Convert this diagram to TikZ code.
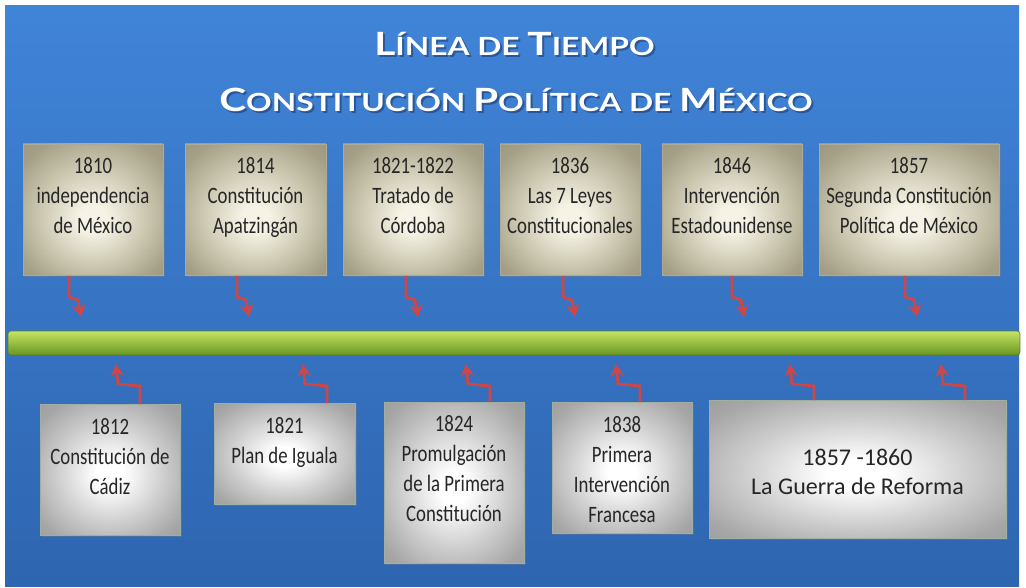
\documentclass[tikz,border=0pt]{standalone}
\usepackage{fontspec}
\usetikzlibrary{arrows.meta,shadows}
\newfontfamily\boxfont[FakeStretch=0.8]{Carlito}
\newfontfamily\widefont{Carlito}
\newfontfamily\titlefont[FakeStretch=1.27]{Lato}
\definecolor{bgtop}{RGB}{64,132,216}
\definecolor{bgbot}{RGB}{46,101,176}
\definecolor{arrred}{RGB}{206,70,70}
\definecolor{beigein}{RGB}{246,243,230}
\definecolor{beigemid}{RGB}{204,199,176}
\definecolor{beigeedge}{RGB}{164,159,134}
\definecolor{beigeout}{RGB}{138,133,110}
\definecolor{silvmid}{RGB}{206,206,206}
\definecolor{silvedge}{RGB}{166,166,166}
\definecolor{silvout}{RGB}{138,138,138}
\definecolor{bartop}{RGB}{196,228,100}
\definecolor{barmid}{RGB}{160,204,60}
\definecolor{barbot}{RGB}{106,150,34}
\pgfdeclareradialshading{beigeglow}{\pgfpoint{0bp}{-4bp}}{color(0bp)=(beigein); color(5bp)=(beigein); color(19bp)=(beigemid); color(31bp)=(beigeedge); color(50bp)=(beigeout)}
\pgfdeclareradialshading{silverglow}{\pgfpoint{0bp}{-2bp}}{color(0bp)=(white); color(5bp)=(white); color(19bp)=(silvmid); color(31bp)=(silvedge); color(50bp)=(silvout)}
\newcommand\Bg[1]{{\fontsize{32}{32}\selectfont #1}}
\newcommand\Sm[1]{{\fontsize{25}{25}\selectfont #1}}
\tikzset{
  topbox/.style={draw={rgb,255:red,170;green,170;blue,150}, line width=0.8pt,
    shading=beigeglow,
    drop shadow={shadow xshift=2pt, shadow yshift=-2pt, opacity=0.35}},
  botbox/.style={draw={rgb,255:red,160;green,175;blue,160}, line width=0.8pt,
    shading=silverglow,
    drop shadow={shadow xshift=2pt, shadow yshift=-2pt, opacity=0.35}},
  boxtext/.style={font=\boxfont\fontsize{23.5}{30}\selectfont, align=center,
    inner sep=0pt, anchor=north, text=black!85},
  widetext/.style={font=\widefont\fontsize{24}{29}\selectfont, align=center,
    inner sep=0pt, text=black!85},
  arr/.style={draw=arrred, line width=2.8pt, line join=miter,
    -{Stealth[length=12pt,width=13pt,inset=3.5pt]}},
  titletext/.style={font=\titlefont\bfseries, text=white, inner sep=0pt, anchor=base},
  titleshadow/.style={font=\titlefont\bfseries, text={rgb,255:red,30;green,60;blue,110}, inner sep=0pt, anchor=base, opacity=0.6}
}
\begin{document}
\begin{tikzpicture}[x=1pt,y=-1pt]
\useasboundingbox (0,0) rectangle (1026,588);
\fill[white] (0,0) rectangle (1026,588);
\shade[top color=bgtop, bottom color=bgbot] (5,6) rectangle (1019,586);

% title
\node[titleshadow] (tt1s) at (516.5,58) {\Bg{L}\Sm{ÍNEA DE }\Bg{T}\Sm{IEMPO}};
\node[titletext] (tt1) at (514.5,56) {\Bg{L}\Sm{ÍNEA DE }\Bg{T}\Sm{IEMPO}};
\node[titleshadow] (tt2s) at (518,114) {\Bg{C}\Sm{ONSTITUCIÓN }\Bg{P}\Sm{OLÍTICA DE }\Bg{M}\Sm{ÉXICO}};
\node[titletext] (tt2) at (516,112) {\Bg{C}\Sm{ONSTITUCIÓN }\Bg{P}\Sm{OLÍTICA DE }\Bg{M}\Sm{ÉXICO}};

% timeline bar
\shade[top color=bartop, middle color=barmid, bottom color=barbot, rounded corners=3pt,
  draw={rgb,255:red,90;green,130;blue,30}, line width=0.6pt] (8,331) rectangle (1020,355);

% top boxes
\path[topbox] (23,144) rectangle (163,275); \node[inner sep=0pt] (T1) at (93,209.5) {};
\path[topbox] (185,144) rectangle (326,275); \node[inner sep=0pt] (T2) at (255.5,209.5) {};
\path[topbox] (343,144) rectangle (483,275); \node[inner sep=0pt] (T3) at (413,209.5) {};
\path[topbox] (500,144) rectangle (640,275); \node[inner sep=0pt] (T4) at (570,209.5) {};
\path[topbox] (662,144) rectangle (802,275); \node[inner sep=0pt] (T5) at (732,209.5) {};
\path[topbox] (819,144) rectangle (999,275); \node[inner sep=0pt] (T6) at (909,209.5) {};

\node[boxtext] (t1) at (93,157) {1810\\independencia\\de México};
\node[boxtext] (t2) at (255.5,157) {1814\\Constitución\\Apatzingán};
\node[boxtext] (t3) at (413,157) {1821-1822\\Tratado de\\Córdoba};
\node[boxtext] (t4) at (570,157) {1836\\Las 7 Leyes\\Constitucionales};
\node[boxtext] (t5) at (732,157) {1846\\Intervención\\Estadounidense};
\node[boxtext] (t6) at (909,157) {1857\\Segunda Constitución\\Política de México};

% bottom boxes
\path[botbox] (40,404) rectangle (180,535); \node[inner sep=0pt] (B1) at (110,469.5) {};
\path[botbox] (214,403) rectangle (355,504); \node[inner sep=0pt] (B2) at (284.5,453.5) {};
\path[botbox] (384,402) rectangle (524,563); \node[inner sep=0pt] (B3) at (454,482.5) {};
\path[botbox] (552,402) rectangle (692,533); \node[inner sep=0pt] (B4) at (622,467.5) {};
\path[botbox] (709,400) rectangle (1006,538); \node[inner sep=0pt] (B5) at (857.5,469) {};

\node[boxtext] (b1) at (110,418) {1812\\Constitución de\\Cádiz};
\node[boxtext] (b2) at (284.5,417) {1821\\Plan de Iguala};
\node[boxtext] (b3) at (454,415) {1824\\Promulgación\\de la Primera\\Constitución};
\node[boxtext] (b4) at (622,416) {1838\\Primera\\Intervención\\Francesa};
\node[widetext] (b5) at (857.5,472) {1857 -1860\\La Guerra de Reforma};

% top arrows
\foreach \x in {69,237,406,563,732,905}{
  \coordinate (tip) at (\x+12,317);
  \draw[arr] (\x,276) -- (\x,297) -- (\x+9,300) -- (tip);
}
% bottom arrows
\foreach \x/\y in {140/404,327/403,490/402,640/402,814/400,965/400}{
  \coordinate (tipb) at (\x-24,364);
  \draw[arr] (\x,\y) -- (\x,386) -- (\x-22,384) -- (tipb);
}
\end{tikzpicture}
\end{document}
